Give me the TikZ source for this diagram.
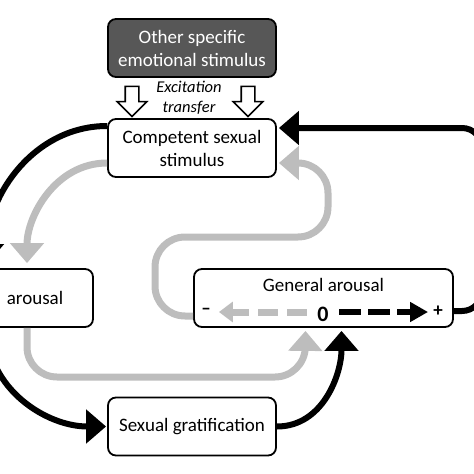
\documentclass[tikz,border=0pt]{standalone}
\usepackage{fontspec}
\setmainfont{Carlito}
\usepackage{tikz}
\usetikzlibrary{calc}
\usetikzlibrary{positioning}
\usetikzlibrary{arrows.meta}
\usetikzlibrary{shapes.arrows}

\definecolor{loopgray}{HTML}{BDBDBD}
\definecolor{darkbox}{HTML}{575757}

\tikzset{
	stagebox/.style={rectangle, draw=black, line width=1.8pt, fill=white, rounded corners=8pt, minimum height=58pt, inner sep=2pt, align=center, font={\fontsize{19}{23}\selectfont}},
	blackloop/.style={line width=6pt, draw=black, -{Triangle[length=20pt,width=33pt]}},
	grayloop/.style={line width=7pt, draw=loopgray, -{Triangle[length=20pt,width=33pt]}},
	transferarrow/.style={single arrow, draw=black, line width=1.6pt, fill=white, minimum height=30pt, inner sep=6pt, single arrow head extend=8pt, shape border rotate=270},
}

\begin{document}
\begin{tikzpicture}[x=1pt, y=-1pt]
\useasboundingbox (0,0) rectangle (474,474);
\clip (0,0) rectangle (474,474);

\node at (192,48)[stagebox, fill=darkbox, text=white, minimum width=168pt] (emo) {Other specific\\emotional stimulus};
\node at (192,148)[stagebox, minimum width=168pt] (comp) {Competent sexual\\stimulus};
\node at (35,298)[stagebox, minimum width=116pt] (sexarousal) {arousal};
\node at (323.5,298)[stagebox, minimum width=259pt] (genarousal) {};
\node at (192,426.5)[stagebox, minimum width=168pt] (sexgrat) {Sexual gratification};

\node[font={\fontsize{19}{23}\selectfont}] (galabel) at ($(genarousal.center)+(0,-13)$) {General arousal};
\node[font={\bfseries\fontsize{19}{23}\selectfont}, inner sep=0pt] (minus) at (206,311) {–};
\node[font={\bfseries\fontsize{22}{24}\selectfont}, inner sep=0pt] (zero) at (323,314) {0};
\node[font={\bfseries\fontsize{19}{23}\selectfont}, inner sep=0pt] (plus) at (438,311) {+};
\draw[line width=7pt, loopgray, dash pattern=on 20pt off 9pt, -{Triangle[length=14pt,width=20pt]}, shorten <=10.5pt, shorten >=8pt] (zero.west |- 0,312) -- (minus.east |- 0,312);
\draw[line width=6pt, black, dash pattern=on 22pt off 7pt, -{Triangle[length=18pt,width=19pt]}, shorten <=10.5pt, shorten >=5pt] (zero.east |- 0,312) -- (plus.west |- 0,312);

% excitation transfer
\node[transferarrow] (xferleft) at ($(emo.south)!0.5!(comp.north)+(-60,0)$) {};
\node[transferarrow] (xferright) at ($(emo.south)!0.5!(comp.north)+(56,0)$) {};
\node[font={\itshape\fontsize{16.5}{20}\selectfont}, align=center] (xferlabel) at ($(emo.south)!0.5!(comp.north)+(-3,0)$) {Excitation\\transfer};

% gray loops
\draw[grayloop, shorten >=5pt] ([yshift=-15pt]comp.west) to[out=180,in=90] ([xshift=-8pt]sexarousal.north);
\draw[grayloop, rounded corners=30pt, shorten >=3pt] ([xshift=-8pt]sexarousal.south) |- (305,377) -- ([xshift=-18pt]genarousal.south);
\draw[grayloop, rounded corners=30pt, shorten >=2pt] ([yshift=-18pt]genarousal.west) -| (155,237) -| (328,163) -- ([yshift=-15pt]comp.east);

% black loops
\draw[blackloop, shorten >=4pt] ([yshift=22pt]comp.west) to[out=180,in=90] ([xshift=-48pt]sexarousal.north);
\draw[blackloop, shorten >=1pt] ([xshift=-48pt]sexarousal.south) to[out=270,in=180] (sexgrat.west);
\draw[blackloop, shorten >=3pt] (sexgrat.east) to[out=0,in=270] ([xshift=18pt]genarousal.south);
\draw[blackloop, rounded corners=20pt, shorten >=2pt] ([yshift=-13pt]genarousal.east) -- (482,311) -- (482,128) -- ([yshift=20pt]comp.east);

\end{tikzpicture}
\end{document}
